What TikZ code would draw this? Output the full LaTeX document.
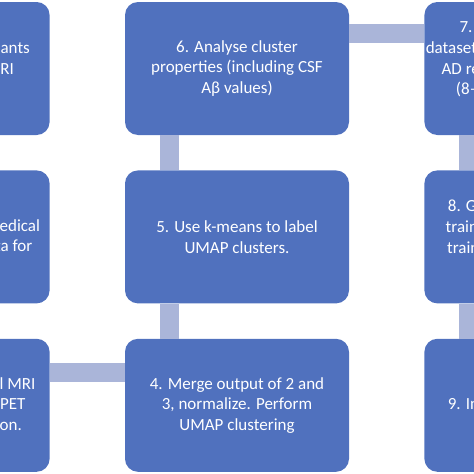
\documentclass[tikz,border=0pt]{standalone}
\usepackage{fontspec}
\setmainfont{Carlito}
\usepackage{tikz}
\usetikzlibrary{positioning}
\definecolor{stageblue}{RGB}{80,113,190}
\definecolor{linkgrey}{RGB}{170,181,217}
\tikzstyle{stage} = [rectangle, rounded corners=13pt, fill=stageblue, text=white, align=center, minimum width=224pt, minimum height=133pt, inner sep=0pt, font=\fontsize{17}{20.7}\selectfont]
\tikzstyle{link} = [line width=19pt, draw=linkgrey]

\begin{document}
\begin{tikzpicture}[node distance=75pt]
  \useasboundingbox (0,0) rectangle (474pt,-474pt);
  \clip (0,0) rectangle (474pt,-474pt);

  \node (b6) [stage] at (237pt,-68.5pt) {6. Analyse cluster\\properties (including CSF\\A\char"03B2{} values)};
  \node (b1) [stage, left=75pt of b6] {1. Select ADNI participants\\with T1-weighted MRI\\and PET scans};
  \node (b7) [stage, right=75pt of b6] {7. Construct a training\\dataset of MRI scans labelled by\\AD related atrophy subtype\\(8–10 subtypes) for the\\classifier};
  \node (b5) [stage, below=35pt of b6] {5. Use k-means to label\\UMAP clusters.};
  \node (b2) [stage, left=75pt of b5] {2. Collect\\clinical, cognitive and medical\\history and genetic data for\\each participant};
  \node (b8) [stage, right=75pt of b5] {8. Generate graph inputs;\\train, validate and test the\\trained graph classifier on\\held-out data};
  \node (b4) [stage, below=35pt of b5] {4. Merge output of 2 and\\3, normalize. Perform\\UMAP clustering};
  \node (b3) [stage, left=75pt of b4] {3. Preprocess structural MRI\\volumes and amyloid PET\\for image segmentation.};
  \node (b9) [stage, right=75pt of b4] {9. Interpret model results};

  \draw [link] ([yshift=-33.5pt]b3.north east) -- ([yshift=-33.5pt]b4.north west);
  \draw [link] ([xshift=44.5pt]b4.north west) -- ([xshift=44.5pt]b5.south west);
  \draw [link] ([xshift=44.5pt]b5.north west) -- ([xshift=44.5pt]b6.south west);
  \draw [link] ([yshift=-31.5pt]b6.north east) -- ([yshift=-31.5pt]b7.north west);
  \draw [link] ([xshift=44.5pt]b7.south west) -- ([xshift=44.5pt]b8.north west);
  \draw [link] ([xshift=44.5pt]b8.south west) -- ([xshift=44.5pt]b9.north west);
\end{tikzpicture}
\end{document}
